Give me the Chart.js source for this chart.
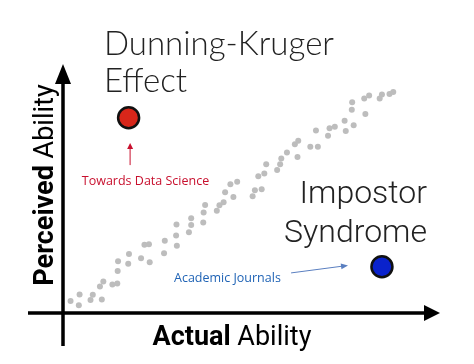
<!DOCTYPE html>
<html lang="en">
<head>
<meta charset="UTF-8">
<title>Dunning-Kruger vs Impostor</title>
<script src="https://cdn.jsdelivr.net/npm/chart.js"></script>
<style>
  body { margin: 0; background: #fff; }
  #chart { display: block; }
</style>
</head>
<body>
<canvas id="chart" width="474" height="364"></canvas>
<script>
// gray cloud: actual vs perceived ability (0-100 scale)
const cloudX = [2.0, 4.2, 4.4, 7.3, 7.9, 10.3, 9.8, 10.7, 13.1, 14.4, 14.5, 14.6, 17.3, 17.5, 20.7, 21.6, 22.8, 23.0,
  26.8, 27.0, 30.1, 30.0, 30.2, 33.4, 34.0, 34.0, 37.2, 37.3, 37.7, 40.8, 41.5, 42.6, 43.0, 44.4, 45.2, 46.2,
  50.3, 50.9, 52.7, 51.8, 53.4, 53.9, 56.8, 57.6, 57.9, 59.4, 62.2, 61.5, 62.4, 65.6, 67.6, 67.1, 70.3, 70.7,
  72.1, 74.7, 75.0, 77.1, 76.6, 76.7, 80.2, 79.9, 81.2, 84.0, 84.6, 86.6, 87.6];
const cloudY = [4.8, 3.1, 7.4, 5.2, 7.3, 5.4, 10.6, 12.7, 11.4, 11.8, 16.9, 20.8, 19.8, 23.7, 22.0, 27.4, 27.6, 20.4,
  24.0, 29.0, 35.5, 31.1, 27.0, 32.4, 35.3, 38.1, 36.3, 40.4, 43.4, 41.1, 43.3, 44.5, 48.5, 51.7, 46.6, 52.7,
  46.9, 49.3, 49.7, 54.9, 56.0, 59.7, 57.4, 59.7, 62.0, 64.5, 62.7, 67.8, 69.2, 66.8, 66.8, 73.3, 71.2, 74.2,
  74.8, 77.2, 73.1, 75.4, 81.6, 84.6, 79.9, 86.1, 87.3, 86.1, 87.8, 88.0, 88.8];

const dunningPoint = [17.4, 78.4];
const impostorPoint = [84.6, 18.6];

const xTitle = ['Actual', 'Ability'];
const yTitle = ['Perceived', 'Ability'];

const cloud = cloudX.map((x, i) => ({ x: x, y: cloudY[i] }));

// axes with arrow heads, labels and notes
const sketch = {
  id: 'sketch',
  beforeDatasetsDraw(chart) {
    const c = chart.ctx, xs = chart.scales.x, ys = chart.scales.y;
    const x0 = xs.getPixelForValue(0), y0 = ys.getPixelForValue(0);
    const xEnd = xs.getPixelForValue(100), yEnd = ys.getPixelForValue(100);
    c.save();
    c.strokeStyle = '#000';
    c.fillStyle = '#000';
    c.lineWidth = 3.5;
    c.beginPath();
    c.moveTo(x0, y0 + 33);
    c.lineTo(x0, yEnd + 16);
    c.moveTo(x0 - 35, y0);
    c.lineTo(xEnd - 12, y0);
    c.stroke();
    c.beginPath();
    c.moveTo(x0, yEnd);
    c.lineTo(x0 - 8, yEnd + 20);
    c.lineTo(x0 + 8, yEnd + 20);
    c.closePath();
    c.fill();
    c.beginPath();
    c.moveTo(xEnd, y0);
    c.lineTo(xEnd - 16, y0 - 8);
    c.lineTo(xEnd - 16, y0 + 8);
    c.closePath();
    c.fill();

    // axis titles, bold first word
    const bold = '700 27px Roboto', reg = '400 27px Roboto';
    c.textBaseline = 'alphabetic';
    c.font = bold;
    const w1 = c.measureText(xTitle[0] + ' ').width;
    c.font = reg;
    const w2 = c.measureText(xTitle[1]).width;
    let sx = 232 - (w1 + w2) / 2;
    c.font = bold; c.fillText(xTitle[0], sx, 345);
    c.font = reg; c.fillText(xTitle[1], sx + w1, 345);

    c.save();
    c.translate(53, 185);
    c.rotate(-Math.PI / 2);
    c.font = bold;
    const v1 = c.measureText(yTitle[0] + ' ').width;
    c.font = reg;
    const v2 = c.measureText(yTitle[1]).width;
    sx = -(v1 + v2) / 2;
    c.font = bold; c.fillText(yTitle[0], sx, 0);
    c.font = reg; c.fillText(yTitle[1], sx + v1, 0);
    c.restore();

    // big headings
    c.fillStyle = '#222';
    c.font = '300 33px Lato';
    c.textAlign = 'left';
    c.fillText('Dunning-Kruger', 104, 55);
    c.fillText('Effect', 104, 92);
    c.font = '300 32px Roboto';
    c.textAlign = 'right';
    c.fillText('Impostor', 427, 203);
    c.fillText('Syndrome', 427, 242);

    // notes with little arrows
    c.font = '12.5px "Open Sans"';
    c.textBaseline = 'middle';
    c.textAlign = 'center';
    c.fillStyle = '#c8102e';
    c.fillText('Towards Data Science', 145.5, 181);
    c.textAlign = 'left';
    c.fillStyle = '#1f63b5';
    c.fillText('Academic Journals', 174, 278);

    c.lineWidth = 1;
    c.strokeStyle = '#c8102e';
    c.fillStyle = '#c8102e';
    const ax = xs.getPixelForValue(17.8);
    const ay1 = ys.getPixelForValue(59.4), ay2 = ys.getPixelForValue(68.3);
    c.beginPath(); c.moveTo(ax, ay1); c.lineTo(ax, ay2 + 5); c.stroke();
    c.beginPath(); c.moveTo(ax, ay2); c.lineTo(ax - 3, ay2 + 6); c.lineTo(ax + 3, ay2 + 6); c.closePath(); c.fill();

    c.strokeStyle = '#5a7fc0';
    c.fillStyle = '#5a7fc0';
    const bx1 = xs.getPixelForValue(60.5), by1 = ys.getPixelForValue(16.1);
    const bx2 = xs.getPixelForValue(75.6), by2 = ys.getPixelForValue(19.1);
    const ang = Math.atan2(by2 - by1, bx2 - bx1);
    c.beginPath(); c.moveTo(bx1, by1); c.lineTo(bx2 - 5 * Math.cos(ang), by2 - 5 * Math.sin(ang)); c.stroke();
    c.save();
    c.translate(bx2, by2); c.rotate(ang);
    c.beginPath(); c.moveTo(0, 0); c.lineTo(-7, -3); c.lineTo(-7, 3); c.closePath(); c.fill();
    c.restore();
    c.restore();
  }
};

new Chart(document.getElementById('chart'), {
  type: 'scatter',
  data: {
    datasets: [{
      data: cloud,
      pointRadius: 3,
      pointBackgroundColor: '#bdbdbd',
      pointBorderWidth: 0
    }, {
      data: [{ x: dunningPoint[0], y: dunningPoint[1] }],
      pointRadius: 10.5,
      pointBackgroundColor: '#d8261a',
      pointBorderColor: '#111',
      pointBorderWidth: 2.5
    }, {
      data: [{ x: impostorPoint[0], y: impostorPoint[1] }],
      pointRadius: 10.5,
      pointBackgroundColor: '#0a22cc',
      pointBorderColor: '#111',
      pointBorderWidth: 2.5
    }]
  },
  options: {
    responsive: false,
    devicePixelRatio: 1,
    animation: false,
    layout: { padding: { left: 63, right: 34, top: 64, bottom: 51 } },
    plugins: { legend: { display: false }, tooltip: { enabled: false } },
    scales: {
      x: { type: 'linear', min: 0, max: 100, display: false },
      y: { type: 'linear', min: 0, max: 100, display: false }
    }
  },
  plugins: [sketch]
});
</script>
</body>
</html>
